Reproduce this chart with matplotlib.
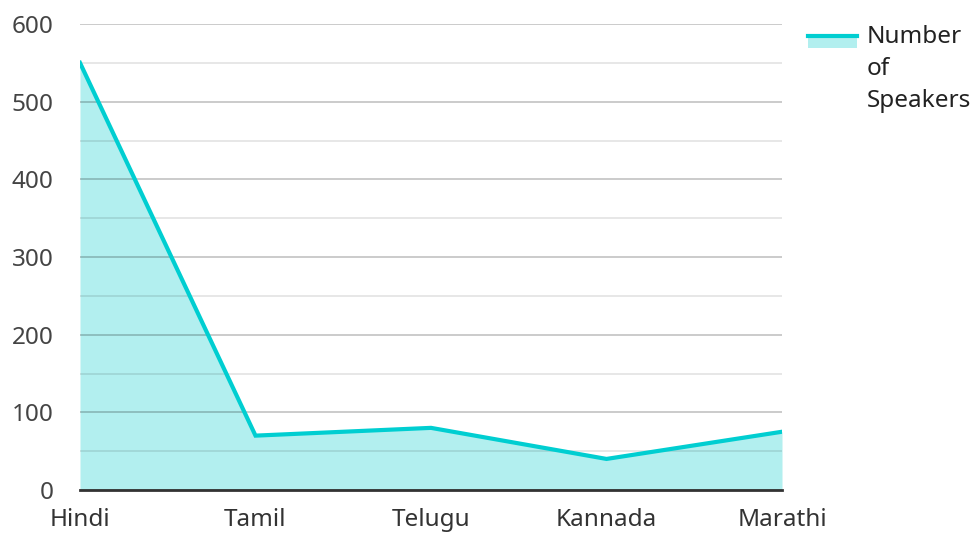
import matplotlib
matplotlib.use("Agg")
import matplotlib.pyplot as plt
from matplotlib.patches import Rectangle
from matplotlib.lines import Line2D

languages = ["Hindi", "Tamil", "Telugu", "Kannada", "Marathi"]
speakers = [550, 70, 80, 40, 75]
series_name = "Number\nof\nSpeakers"
y_ticks = [0, 100, 200, 300, 400, 500, 600]
y_minor = [50, 150, 250, 350, 450, 550]

plt.rcParams['font.family'] = ['Noto Sans', 'DejaVu Sans']
line_color = "#00CED1"
fill_color = "#b2efef"

fig = plt.figure(figsize=(9.76, 5.33), dpi=100)
ax = fig.add_axes([80/976, 1-490/533, (782-80)/976, (490-24)/533])

x = list(range(len(languages)))
ax.fill_between(x, speakers, 0, color=fill_color, zorder=1, linewidth=0)
ax.plot(x, speakers, color=line_color, linewidth=3, zorder=4, solid_joinstyle='miter')

ax.set_xlim(0, len(languages) - 1)
ax.set_ylim(0, 600)
ax.set_yticks(y_ticks)
ax.set_yticks(y_minor, minor=True)
ax.set_xticks(x)
ax.set_xticklabels(languages)
ax.grid(True, which='major', axis='y', color='#000000', alpha=0.22, linewidth=1.3, zorder=2)
ax.grid(True, which='minor', axis='y', color='#000000', alpha=0.10, linewidth=1.3, zorder=2)
ax.set_axisbelow(False)
for s in ['top', 'right', 'left']:
    ax.spines[s].set_visible(False)
ax.spines['bottom'].set_color('#333333')
ax.spines['bottom'].set_linewidth(2)
ax.spines['bottom'].set_zorder(5)
ax.tick_params(axis='both', which='both', length=0, labelsize=17.5, colors='#333333')
ax.tick_params(axis='y', pad=19)
ax.tick_params(axis='x', pad=13)
for lbl in ax.get_yticklabels():
    lbl.set_color('#444444')

# legend
W, H = 976, 533
fig.patches.append(Rectangle((808/W, 1-48/H), 49/W, 12/H, transform=fig.transFigure,
                             facecolor=fill_color, edgecolor='none'))
fig.lines.append(Line2D([808/W, 857/W], [1-36/H, 1-36/H], transform=fig.transFigure,
                        color=line_color, linewidth=3))
fig.text(867/W, 1-25/H, series_name, va='top', ha='left', fontsize=17.5,
         color='#222222', linespacing=1.45)

fig.savefig("out.png", dpi=100)
